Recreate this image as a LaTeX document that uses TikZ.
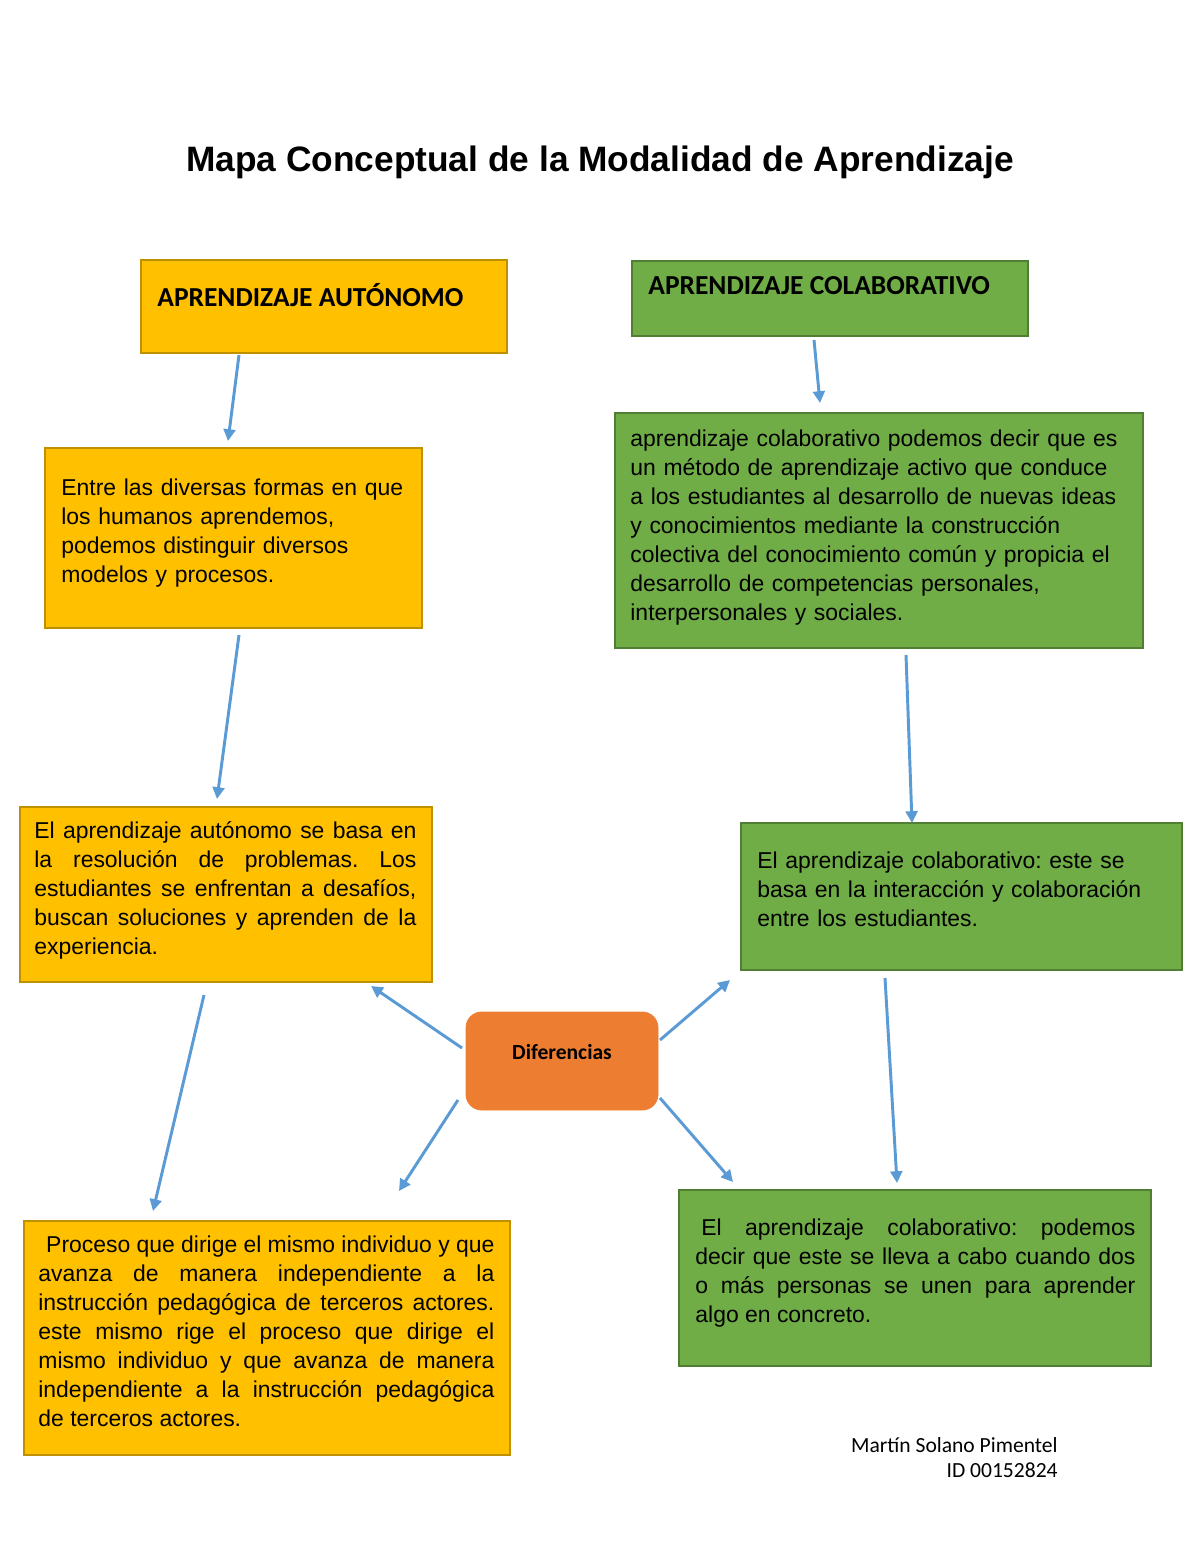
\documentclass[tikz,border=0pt]{standalone}
\usepackage{fontspec}
\setmainfont{Liberation Sans}
\newfontfamily\calibri{Carlito}
\usetikzlibrary{arrows.meta,fit}
\definecolor{gold}{HTML}{FFC000}
\definecolor{goldline}{HTML}{BF9000}
\definecolor{leaf}{HTML}{70AD47}
\definecolor{leafline}{HTML}{507E32}
\definecolor{pumpkin}{HTML}{ED7D31}
\definecolor{arrowblue}{HTML}{5B9BD5}
\hyphenpenalty=10000
\exhyphenpenalty=10000
\tolerance=10000
\frenchspacing
\begin{document}
\begin{tikzpicture}[x=0.51pt,y=-0.51pt,
  ybox/.style={draw=goldline,fill=gold,line width=1.1pt,inner sep=0pt},
  gbox/.style={draw=leafline,fill=leaf,line width=1.1pt,inner sep=0pt},
  obox/.style={fill=pumpkin,draw=pumpkin,rounded corners=8pt,inner sep=0pt},
  body/.style={inner sep=0pt,anchor=base west,font=\fontsize{11.7}{14.85}\selectfont},
  rag/.style={body,align=left},
  just/.style={body,align=justify},
  head/.style={inner sep=0pt,anchor=base west,font=\calibri\bfseries\fontsize{14}{16}\selectfont},
  conn/.style={draw=arrowblue,line width=1.5pt,-{Triangle[length=6pt,width=6pt]}}]
\fill[white] (0,0) rectangle (1200,1553);
\useasboundingbox (0,0) rectangle (1200,1553);

% title
\node[inner sep=0pt,anchor=base,font=\bfseries\fontsize{18}{21}\selectfont] (title) at (600,172) {Mapa Conceptual de la Modalidad de Aprendizaje};

% boxes
\node[ybox,fit={(141,260)(507,353)}] (h1) {};
\node[gbox,fit={(632,261)(1028,336)}] (h2) {};
\node[ybox,fit={(45,448)(422,628)}] (a1) {};
\node[gbox,fit={(615,413)(1143,648)}] (c1) {};
\node[ybox,fit={(20,807)(432,982)}] (a2) {};
\node[gbox,fit={(741,823)(1182,970)}] (c2) {};
\node[obox,fit={(466,1012)(658,1110)}] (dif) {};
\node[ybox,fit={(24,1221)(510,1455)}] (a3) {};
\node[gbox,fit={(679,1190)(1151,1366)}] (c3) {};

% texts
\node[head] (h1t) at (157,306) {APRENDIZAJE AUTÓNOMO};
\node[head] (h2t) at (648,294) {APRENDIZAJE COLABORATIVO};

\node[rag,text width=370*0.51pt] (a1t) at (61,495) {Entre las diversas formas en que\\los humanos aprendemos,\\podemos distinguir diversos\\modelos y procesos.};

\node[rag,text width=520*0.51pt] (c1t) at (630,446) {aprendizaje colaborativo podemos decir que es\\un método de aprendizaje activo que conduce\\a los estudiantes al desarrollo de nuevas ideas\\y conocimientos mediante la construcción\\colectiva del conocimiento común y propicia el\\desarrollo de competencias personales,\\interpersonales y sociales.};

\node[just,text width=382*0.51pt] (a2t) at (34,838) {El aprendizaje autónomo se basa en\linebreak la resolución de problemas. Los\linebreak estudiantes se enfrentan a desafíos,\linebreak buscan soluciones y aprenden de la\linebreak experiencia.};

\node[rag,text width=435*0.51pt] (c2t) at (757,868) {El aprendizaje colaborativo: este se\\basa en la interacción y colaboración\\entre los estudiantes.};

\node[inner sep=0pt,anchor=base,font=\calibri\bfseries\fontsize{11}{13}\selectfont] (dift) at (562,1059) {Diferencias};

\node[just,text width=456*0.51pt] (a3t) at (38,1252) {\hspace*{4pt}Proceso que dirige el mismo individuo y que\linebreak avanza de manera independiente a la\linebreak instrucción pedagógica de terceros actores.\linebreak este mismo rige el proceso que dirige el\linebreak mismo individuo y que avanza de manera\linebreak independiente a la instrucción pedagógica\linebreak de terceros actores.};

\node[just,text width=440*0.51pt] (c3t) at (695,1235) {\hspace*{3pt}El aprendizaje colaborativo: podemos\linebreak decir que este se lleva a cabo cuando dos\linebreak o más personas se unen para aprender\linebreak algo en concreto.};

% author
\node[inner sep=0pt,anchor=base east,font=\calibri\fontsize{11}{13}\selectfont] (author) at (1058,1452) {Martín Solano Pimentel};
\node[inner sep=0pt,anchor=base east,font=\calibri\fontsize{11}{13}\selectfont] (authorid) at (1058,1477) {ID 00152824};

% connector ends
\coordinate (p1s) at (239,355);  \coordinate (p1e) at (228,441);
\coordinate (p2s) at (814,340);  \coordinate (p2e) at (820,403);
\coordinate (p3s) at (239,635);  \coordinate (p3e) at (217,799);
\coordinate (p4s) at (906,655);  \coordinate (p4e) at (912,823);
\coordinate (p5s) at (204,995);  \coordinate (p5e) at (153,1211);
\coordinate (p6s) at (885,978);  \coordinate (p6e) at (897,1183);
\coordinate (d1s) at (462,1048); \coordinate (d1e) at (371,986);
\coordinate (d2s) at (458,1100); \coordinate (d2e) at (399,1191);
\coordinate (d3s) at (660,1040); \coordinate (d3e) at (730,980);
\coordinate (d4s) at (660,1098); \coordinate (d4e) at (733,1182);

\draw[conn] (p1s) -- (p1e);
\draw[conn] (p2s) -- (p2e);
\draw[conn] (p3s) -- (p3e);
\draw[conn] (p4s) -- (p4e);
\draw[conn] (p5s) -- (p5e);
\draw[conn] (p6s) -- (p6e);
\draw[conn] (d1s) -- (d1e);
\draw[conn] (d2s) -- (d2e);
\draw[conn] (d3s) -- (d3e);
\draw[conn] (d4s) -- (d4e);
\end{tikzpicture}
\end{document}
